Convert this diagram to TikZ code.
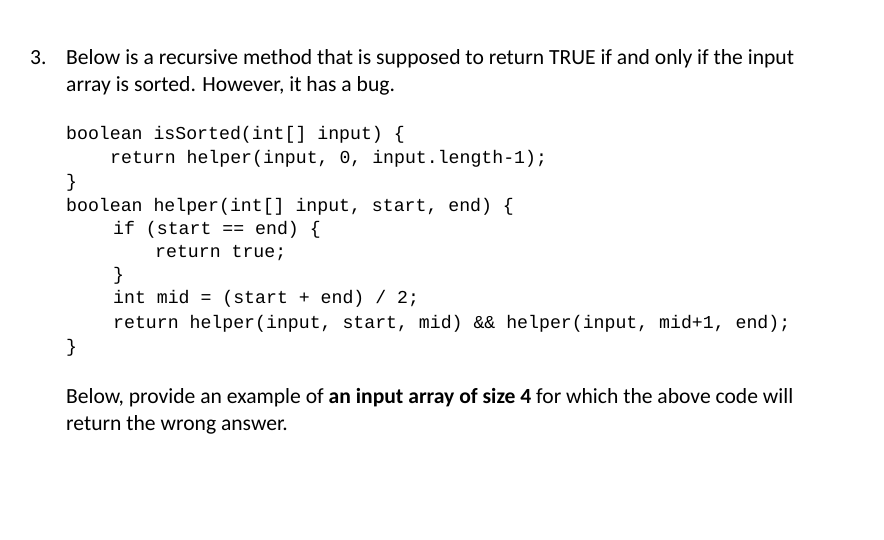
\documentclass[tikz,border=0pt]{standalone}
\usepackage{fontspec}
\setmainfont{Carlito}
\setmonofont{Liberation Mono}
\begin{document}
\begin{tikzpicture}[x=1pt,y=-1pt,
  txt/.style={anchor=base west,inner sep=0pt,font=\fontsize{21.6}{24}\selectfont},
  code/.style={anchor=base west,inner sep=0pt,font=\ttfamily\fontsize{18.2}{22}\selectfont}]
\useasboundingbox (0,0) rectangle (884,540);
\node[txt] (n) at (30,65) {3.};
\node[txt] (l1) at (66,65) {Below is a recursive method that is supposed to return TRUE if and only if the input};
\node[txt] (l2) at (66,92) {array is sorted. However, it has a bug.};
\node[code] (c1) at (66,140) {boolean isSorted(int[] input) \{};
\node[code] (c2) at (110,164) {return helper(input, 0, input.length-1);};
\node[code] (c3) at (66,188) {\}};
\node[code] (c4) at (66,212) {boolean helper(int[] input, start, end) \{};
\node[code] (c5) at (113,235) {if (start == end) \{};
\node[code] (c6) at (155,258) {return true;};
\node[code] (c7) at (113,280) {\}};
\node[code] (c8) at (113,304) {int mid = (start + end) / 2;};
\node[code] (c9) at (113,328) {return helper(input, start, mid) \&\& helper(input, mid+1, end);};
\node[code] (c10) at (66,352) {\}};
\node[txt] (b1) at (66,403) {Below, provide an example of \textbf{an input array of size 4} for which the above code will};
\node[txt] (b2) at (66,430) {return the wrong answer.};
\end{tikzpicture}
\end{document}
